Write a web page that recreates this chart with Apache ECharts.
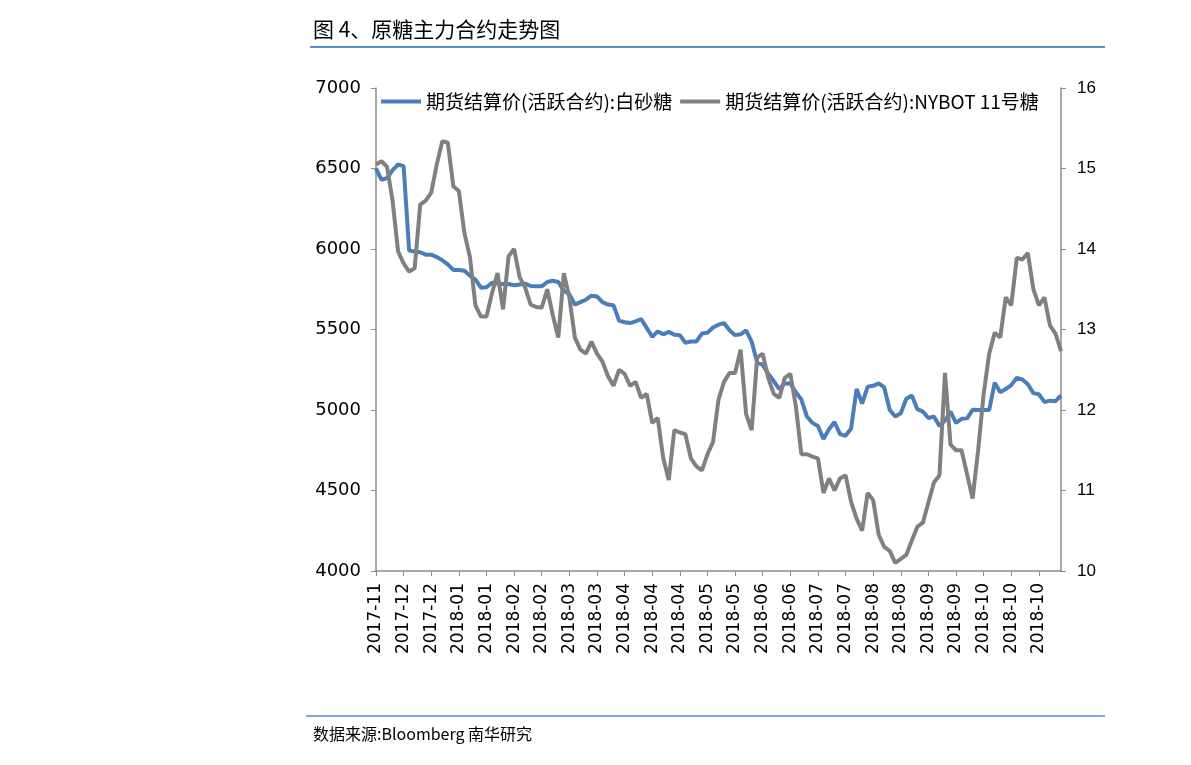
<!DOCTYPE html>
<html>
<head>
<meta charset="utf-8">
<script src="https://cdn.jsdelivr.net/npm/echarts@6/dist/echarts.min.js"></script>
<style>
html,body{margin:0;padding:0;background:#fff;}
#main{width:1191px;height:765px;}
</style>
</head>
<body>
<div id="main"></div>
<script>
// x轴标签(每5个点一个)
var tickLabels=['2017-11','2017-12','2017-12','2018-01','2018-01','2018-02','2018-02','2018-03','2018-03','2018-04','2018-04','2018-04',
	'2018-05','2018-05','2018-06','2018-06','2018-07','2018-07','2018-08','2018-08','2018-09','2018-09','2018-10','2018-10','2018-10'];
// 期货结算价(活跃合约):白砂糖 左轴
var whiteSugar=[6500,6430,6440,6490,6525,6515,5990,5985,5980,5965,
	5965,5950,5930,5905,5870,5870,5865,5835,5810,5760,
	5762,5790,5785,5783,5783,5775,5780,5785,5770,5768,
	5768,5795,5803,5795,5740,5720,5655,5670,5685,5710,
	5705,5670,5655,5650,5555,5545,5540,5550,5565,5510,
	5455,5488,5470,5485,5468,5465,5418,5425,5426,5475,
	5480,5512,5530,5540,5495,5465,5470,5495,5425,5295,
	5280,5225,5180,5130,5165,5165,5110,5065,4960,4920,
	4900,4820,4880,4925,4850,4840,4885,5130,5040,5145,
	5150,5165,5140,5000,4960,4980,5070,5090,5005,4990,
	4950,4960,4900,4935,4990,4920,4945,4948,5001,5000,
	5000,5000,5170,5110,5130,5155,5200,5190,5160,5105,
	5098,5050,5058,5055,5090];
// 期货结算价(活跃合约):NYBOT 11号糖 右轴
var rawSugar=[15.05,15.09,15.02,14.6,13.97,13.82,13.72,13.76,14.55,14.6,
	14.7,15.05,15.34,15.32,14.78,14.72,14.2,13.9,13.3,13.16,
	13.16,13.45,13.7,13.25,13.91,14.0,13.65,13.52,13.31,13.28,
	13.27,13.5,13.18,12.9,13.7,13.4,12.9,12.75,12.7,12.85,
	12.7,12.6,12.42,12.3,12.5,12.45,12.3,12.35,12.15,12.2,
	11.84,11.9,11.4,11.13,11.75,11.72,11.7,11.4,11.3,11.25,
	11.45,11.6,12.13,12.35,12.46,12.46,12.75,11.95,11.75,12.65,
	12.7,12.4,12.2,12.15,12.4,12.45,12.05,11.45,11.45,11.42,
	11.4,10.97,11.15,11.0,11.15,11.19,10.86,10.65,10.5,10.97,
	10.88,10.45,10.3,10.25,10.1,10.15,10.2,10.38,10.55,10.6,
	10.85,11.1,11.19,12.46,11.57,11.5,11.5,11.2,10.9,11.5,
	12.2,12.7,12.96,12.9,13.4,13.3,13.89,13.87,13.95,13.5,
	13.3,13.4,13.05,12.95,12.73];

var xData=[];
for(var i=0;i<whiteSugar.length;i++){
	xData.push(i);
}

var myChart=echarts.init(document.getElementById('main'));
var axisColor='#8c8c8c';
var option={
	animation:false,
	textStyle:{fontFamily:'"Noto Sans CJK SC","Liberation Sans",sans-serif'},
	graphic:[
		{type:'text',left:313,top:19,style:{text:'图 4、原糖主力合约走势图',fill:'#000',font:'21px "Noto Sans CJK SC"'}},
		{type:'line',shape:{x1:310,y1:47,x2:1105,y2:47},style:{stroke:'#1f6fb5',lineWidth:1.5}},
		{type:'line',shape:{x1:306,y1:716,x2:1105,y2:716},style:{stroke:'#4a8fd6',lineWidth:1.5}},
		{type:'text',left:313,top:726,style:{text:'数据来源:Bloomberg 南华研究',fill:'#000',font:'16px "Noto Sans CJK SC"'}}
	],
	legend:{
		left:376,top:87,
		icon:'rect',
		itemWidth:40,itemHeight:4,itemGap:8,
		textStyle:{fontSize:19,color:'#000'},
		data:['期货结算价(活跃合约):白砂糖','期货结算价(活跃合约):NYBOT 11号糖']
	},
	grid:{left:376,right:130,top:88,bottom:194,containLabel:false},
	xAxis:{
		type:'category',
		data:xData,
		boundaryGap:false,
		axisLine:{lineStyle:{color:axisColor,width:1.5}},
		axisTick:{interval:4,length:5,lineStyle:{color:axisColor}},
		axisLabel:{
			interval:4,rotate:90,margin:12,
			fontSize:17,color:'#000',fontFamily:'"DejaVu Sans",sans-serif',
			formatter:function(v,idx){return tickLabels[Math.floor(idx/5)];}
		},
		splitLine:{show:false}
	},
	yAxis:[
		{
			type:'value',min:4000,max:7000,interval:500,
			axisLine:{show:true,lineStyle:{color:axisColor,width:1.5}},
			axisTick:{show:true,length:5,lineStyle:{color:axisColor}},
			axisLabel:{margin:15,fontSize:18,color:'#000',fontFamily:'"DejaVu Sans",sans-serif',
				formatter:function(v){return String(v);}},
			splitLine:{show:false}
		},
		{
			type:'value',min:10,max:16,interval:1,position:'right',
			axisLine:{show:true,lineStyle:{color:axisColor,width:1.5}},
			axisTick:{show:true,length:5,lineStyle:{color:axisColor}},
			axisLabel:{margin:16,fontSize:17,color:'#000',fontFamily:'"Liberation Sans",sans-serif'},
			splitLine:{show:false}
		}
	],
	series:[
		{
			name:'期货结算价(活跃合约):白砂糖',type:'line',yAxisIndex:0,
			data:whiteSugar,symbol:'none',
			lineStyle:{color:'#4a7ebb',width:4},itemStyle:{color:'#4a7ebb'}
		},
		{
			name:'期货结算价(活跃合约):NYBOT 11号糖',type:'line',yAxisIndex:1,
			data:rawSugar,symbol:'none',
			lineStyle:{color:'#808080',width:4},itemStyle:{color:'#808080'}
		}
	]
};
myChart.setOption(option);
</script>
</body>
</html>
